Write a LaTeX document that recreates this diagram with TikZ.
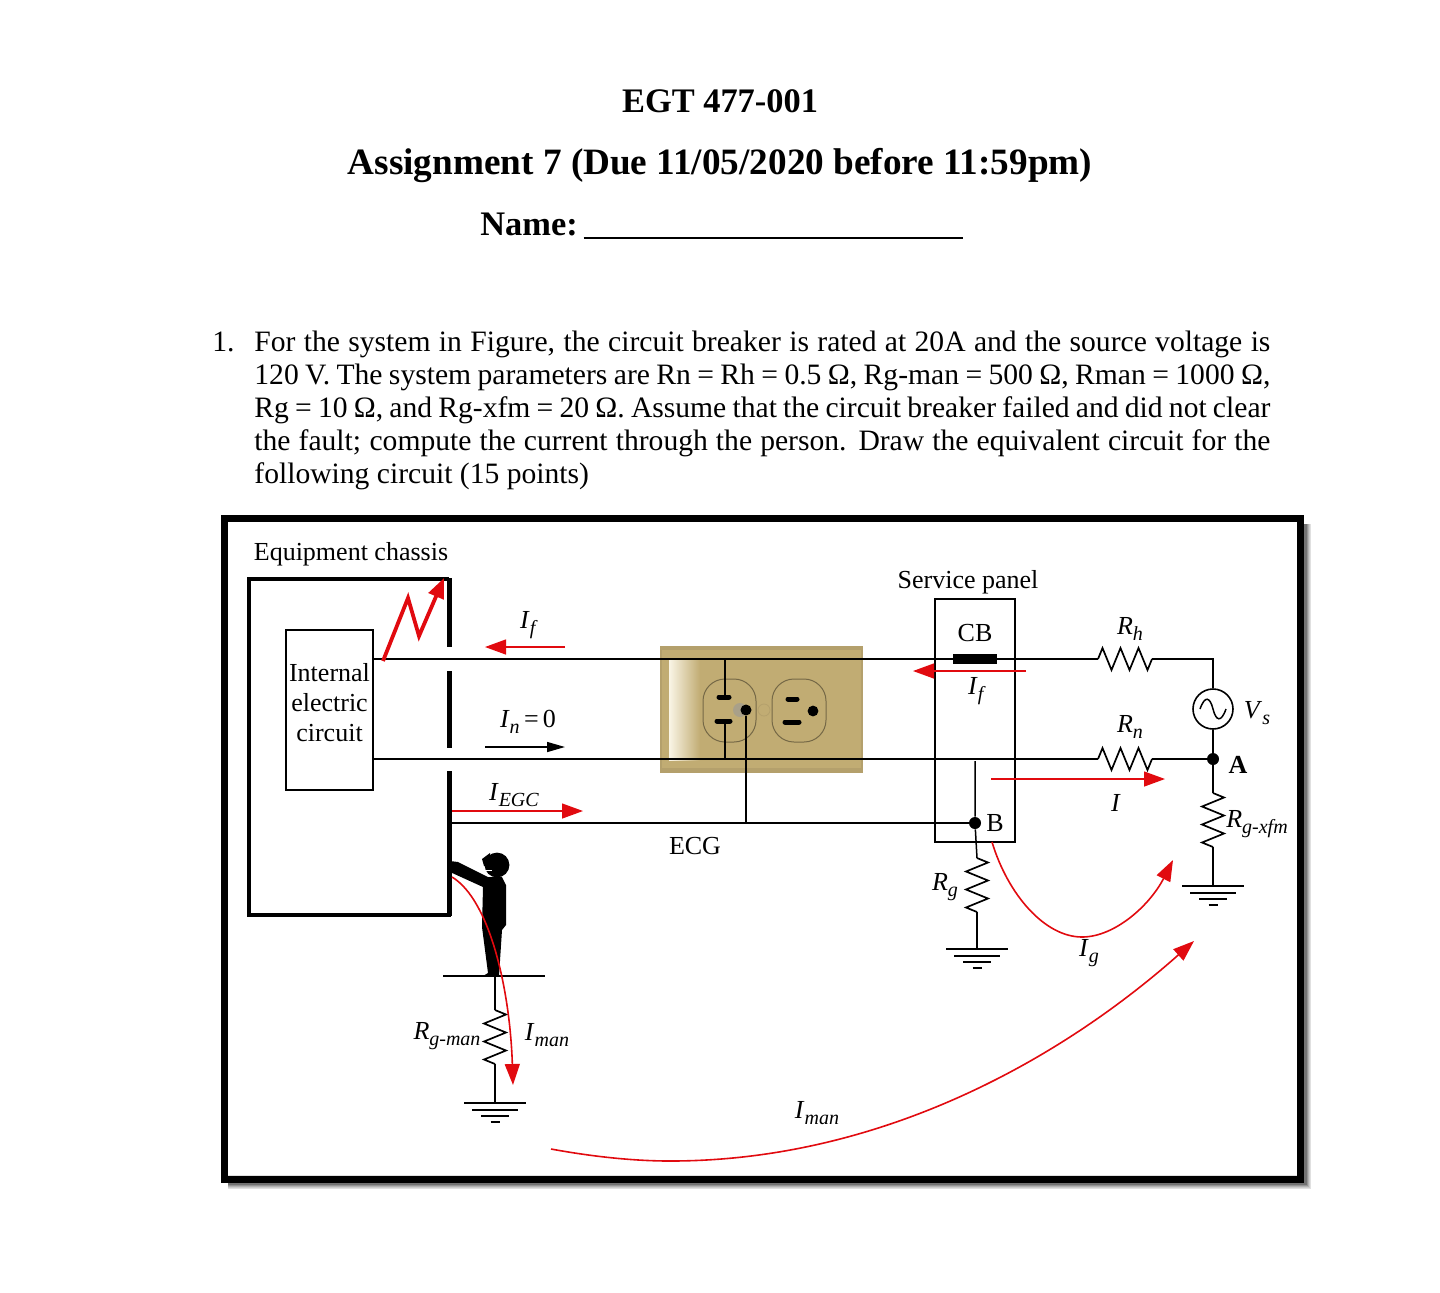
\documentclass[tikz,border=0pt]{standalone}
\usepackage{fontspec}
\setmainfont{Liberation Serif}
\usetikzlibrary{arrows.meta,decorations.pathmorphing}
\definecolor{plate}{RGB}{193,172,115}
\definecolor{plateedge}{RGB}{180,160,108}
\definecolor{platelight}{RGB}{250,245,230}
\definecolor{faultred}{RGB}{225,10,15}
\tikzset{
  wire/.style={line width=.75pt},
  wall/.style={line width=2.5pt},
  zz/.style={line width=.85pt,decorate,decoration={zigzag,segment length=9pt,amplitude=5.5pt}},
  redarrow/.style={faultred,line width=.65pt,-{Triangle[length=10.5pt,width=7.5pt]}},
  wiredot/.style={circle,fill=black,inner sep=0pt,minimum size=6pt},
  lbl/.style={font=\fontsize{13}{15}\selectfont,inner sep=0pt},
  outlet/.style={rounded corners=11pt,draw=plateedge!65!black,fill=plate,line width=.5pt},
  slot/.style={line width=2.5pt,line cap=round},
  headfont/.style={font=\bfseries\fontsize{#1}{20}\selectfont}
}
\newcommand{\cursub}[2]{\textit{#1}\raisebox{-.45ex}{\fontsize{10}{10}\selectfont\textit{#2}}}
\newcommand{\gndsym}[1]{\foreach \dy/\hw in {0/31,7/23,13/14,19/4.5} \draw[wire,shift={(#1)}] (-\hw,\dy) -- (\hw,\dy);}
\newcommand{\parline}[1]{\makebox[508pt][s]{#1}\\}
\begin{document}
\begin{tikzpicture}[x=.5pt,y=-.5pt]
  \useasboundingbox (0,0) rectangle (1440,1292);
  % heading
  \node[headfont=17.2] (course) at (720,101) {EGT 477-001};
  \node[headfont=18.6] (title) at (720,166) {Assignment 7 (Due 11/05/2020 before 11:59pm)};
  \node[headfont=17.2,anchor=west,inner sep=0pt] (name) at (480,226) {Name:\,\rule[-2pt]{189.5pt}{1.1pt}};
  % question
  \node[font=\fontsize{14.8}{16.5}\selectfont,anchor=west,inner sep=0pt] (qnum) at (212,342) {1.};
  \node[font=\fontsize{14.8}{16.5}\selectfont,anchor=north west,inner sep=0pt,align=left] (question) at (254,331) {%
    \parline{For the system in Figure, the circuit breaker is rated at 20A and the source voltage is}
    \parline{120 V. The system parameters are Rn = Rh = 0.5 Ω, Rg-man = 500 Ω, Rman = 1000 Ω,}
    \parline{Rg = 10 Ω, and Rg-xfm = 20 Ω. Assume that the circuit breaker failed and did not clear}
    \parline{the fault; compute the current through the person. Draw the equivalent circuit for the}
    following circuit (15 points)};
  % frame
  \foreach \ww/\gg in {7/12,6/20,5/30,4/42,3/55}
    \draw[black!\gg,line width=\ww pt] (1304,524) -- (1304,1182) -- (228,1182);
  \draw[line width=3.5pt] (224.5,518.5) rectangle (1300.5,1179);
  % socket plate
  \fill[plateedge] (660,646) rectangle (863,773);
  \fill[plate] (662,650) rectangle (861,768);
  \shade[left color=platelight,right color=plate] (669,658) rectangle (700,760);
  \draw[outlet] (703,679) rectangle (756,742);
  \draw[outlet] (772,679) rectangle (826,742);
  \draw[slot] (719,697) -- (729,697);
  \draw[slot] (717,721) -- (730,721);
  \draw[slot] (788,699) -- (797,699);
  \draw[slot] (785,722) -- (799,722);
  \fill[black!40,opacity=.6] (740,710) circle (3.5pt);
  \draw[plateedge,line width=.4pt] (764,710) circle (3pt);
  \fill (813,711) circle (2.7pt);
  % named points
  \node[draw,line width=.6pt,minimum width=43.5pt,minimum height=80pt,inner sep=0pt] (circuit) at (329.5,710) {};
  \node[lbl,align=center] (circuitlbl) at (329.5,703) {Internal\\electric\\circuit};
  \node[draw,line width=.6pt,minimum width=40pt,minimum height=121.5pt] (panel) at (975,720.5) {};
  \node[circle,draw,line width=.8pt,minimum size=20pt,inner sep=0pt] (vs) at (1213,709) {};
  \node[wiredot] (nodeA) at (1213,759) {};
  \node[wiredot] (nodeB) at (975,823) {};
  \node[wiredot,minimum size=5.5pt] (earthpin) at (746,710) {};
  \node[fill=black,minimum width=22pt,minimum height=5pt,inner sep=0pt] (cb) at (975,659) {};
  \coordinate (hotL) at (373,659);
  \coordinate (hotR) at (1098,659);
  \coordinate (hotRR) at (1152,659);
  \coordinate (hotC) at (1213,659);
  \coordinate (neuL) at (373,759);
  \coordinate (neuR) at (1098,759);
  \coordinate (neuRR) at (1152,759);
  \coordinate (egcL) at (451,823);
  \coordinate (egcT) at (746,823);
  \coordinate (hotT) at (725,659);
  \coordinate (hotS) at (725,697);
  \coordinate (neuS) at (725,721);
  \coordinate (neuT) at (725,759);
  \coordinate (bT) at (975,761);
  \coordinate (rgA) at (977,858);
  \coordinate (rgB) at (977,912);
  \coordinate (gndG) at (977,949);
  \coordinate (xfmA) at (1213,793);
  \coordinate (xfmB) at (1213,847);
  \coordinate (gndX) at (1213,886);
  \coordinate (floor) at (495,976);
  \coordinate (manA) at (495,1010);
  \coordinate (manB) at (495,1064);
  \coordinate (gndM) at (495,1103);
  % chassis
  \draw[line width=2.3pt] (449,579) -- (249,579) -- (249,915) -- (451,915);
  \draw[wall] (449,578) -- (449,647);
  \draw[wall] (449,671) -- (449,748);
  \draw[wall] (449,771) -- (449,916);
  % wires
  \draw[wire] (hotL) -- (hotR);
  \draw[zz] (hotR) -- (hotRR);
  \draw[wire] (hotRR) -- (hotC) -- (vs);
  \draw[wire] (neuL) -- (neuR);
  \draw[zz] (neuR) -- (neuRR);
  \draw[wire] (neuRR) -- (nodeA);
  \draw[wire] (vs) -- (nodeA) -- (xfmA);
  \draw[zz] (xfmA) -- (xfmB);
  \draw[wire] (xfmB) -- (gndX);
  \draw[wire] (egcL) -- (nodeB);
  \draw[wire] (egcT) -- (earthpin);
  \draw[wire] (hotT) -- (hotS);
  \draw[wire] (neuS) -- (neuT);
  \draw[wire] (bT) -- (nodeB) -- (rgA);
  \draw[zz] (rgA) -- (rgB);
  \draw[wire] (rgB) -- (gndG);
  \draw[wire] (floor) -- (manA);
  \draw[zz] (manA) -- (manB);
  \draw[wire] (manB) -- (gndM);
  \draw[wire] (443,976) -- (545,976);
  \gndsym{gndX}
  \gndsym{gndG}
  \gndsym{gndM}
  % source
  \draw[wire] (1200,709) .. controls (1205,695) and (1210,697) .. (1213,709) .. controls (1216,721) and (1221,723) .. (1226,709);
  % person
  \fill (497,865) circle (6.2pt);
  \fill (482,859) -- (490,853) -- (492,868) -- (484,866) -- cycle;
  \fill (450,861) -- (458,862) -- (488,877) -- (502,877) -- (506,885) -- (506,925) -- (502,930) -- (499,976) -- (483,976) -- (488,973) -- (482,927) -- (483,887) -- (450,872) -- cycle;
  \draw[white,line width=.4pt] (484,870) -- (492,870);
  % currents
  \draw[faultred,line width=1.9pt,-{Triangle[length=10pt,width=8pt]}] (383,661) -- (408,598) -- (419,636) -- (444,578);
  \draw[redarrow] (565,647) -- (485,647);
  \draw[redarrow] (1026,671) -- (913,671);
  \draw[redarrow] (991,779) -- (1165,779);
  \draw[redarrow] (452,811) -- (583,811);
  \draw[wire,-{Triangle[length=9pt,width=5pt]}] (485,747) -- (565,747);
  \draw[redarrow,line width=.8pt] (992,842) .. controls (1008,895) and (1045,937) .. (1082,937) .. controls (1115,937) and (1150,905) .. (1173,860);
  \draw[redarrow,line width=.8pt] (551,1149) .. controls (600,1158) and (640,1161) .. (670,1161) .. controls (880,1161) and (1060,1060) .. (1194,941);
  \draw[redarrow,line width=.8pt] (452,877) .. controls (490,900) and (510,990) .. (513,1085);
  % labels
  \node[lbl] (chassislbl) at (351,554) {Equipment chassis};
  \node[lbl] (panellbl) at (968,582) {Service panel};
  \node[lbl] (cblbl) at (975,633) {CB};
  \node[lbl] (ecglbl) at (695,846) {ECG};
  \node[lbl] (lblA) at (1238,765) {\textbf{A}};
  \node[lbl] (lblB) at (995,823) {B};
  \node[lbl] (lblIf) at (529,625) {\cursub{I}{f}};
  \node[lbl] (lblIn) at (528,722) {\cursub{I}{n}\,=\,0};
  \node[lbl] (lblIegc) at (514,795) {\cursub{I}{EGC}};
  \node[lbl] (lblIfb) at (977,691) {\cursub{I}{f}};
  \node[lbl] (lblRh) at (1130,629) {\cursub{R}{h}};
  \node[lbl] (lblRn) at (1130,727) {\cursub{R}{n}};
  \node[lbl] (lblVs) at (1257,713) {\cursub{V}{s}};
  \node[lbl] (lblI) at (1116,803) {\textit{I}};
  \node[lbl] (lblRx) at (1257,824) {\cursub{R}{g-xfm}};
  \node[lbl] (lblRg) at (945,887) {\cursub{R}{g}};
  \node[lbl] (lblIg) at (1089,953) {\cursub{I}{g}};
  \node[lbl] (lblRm) at (447,1036) {\cursub{R}{g-man}};
  \node[lbl] (lblIm) at (547,1035) {\cursub{I}{man}};
  \node[lbl] (lblIml) at (817,1113) {\cursub{I}{man}};
\end{tikzpicture}
\end{document}
